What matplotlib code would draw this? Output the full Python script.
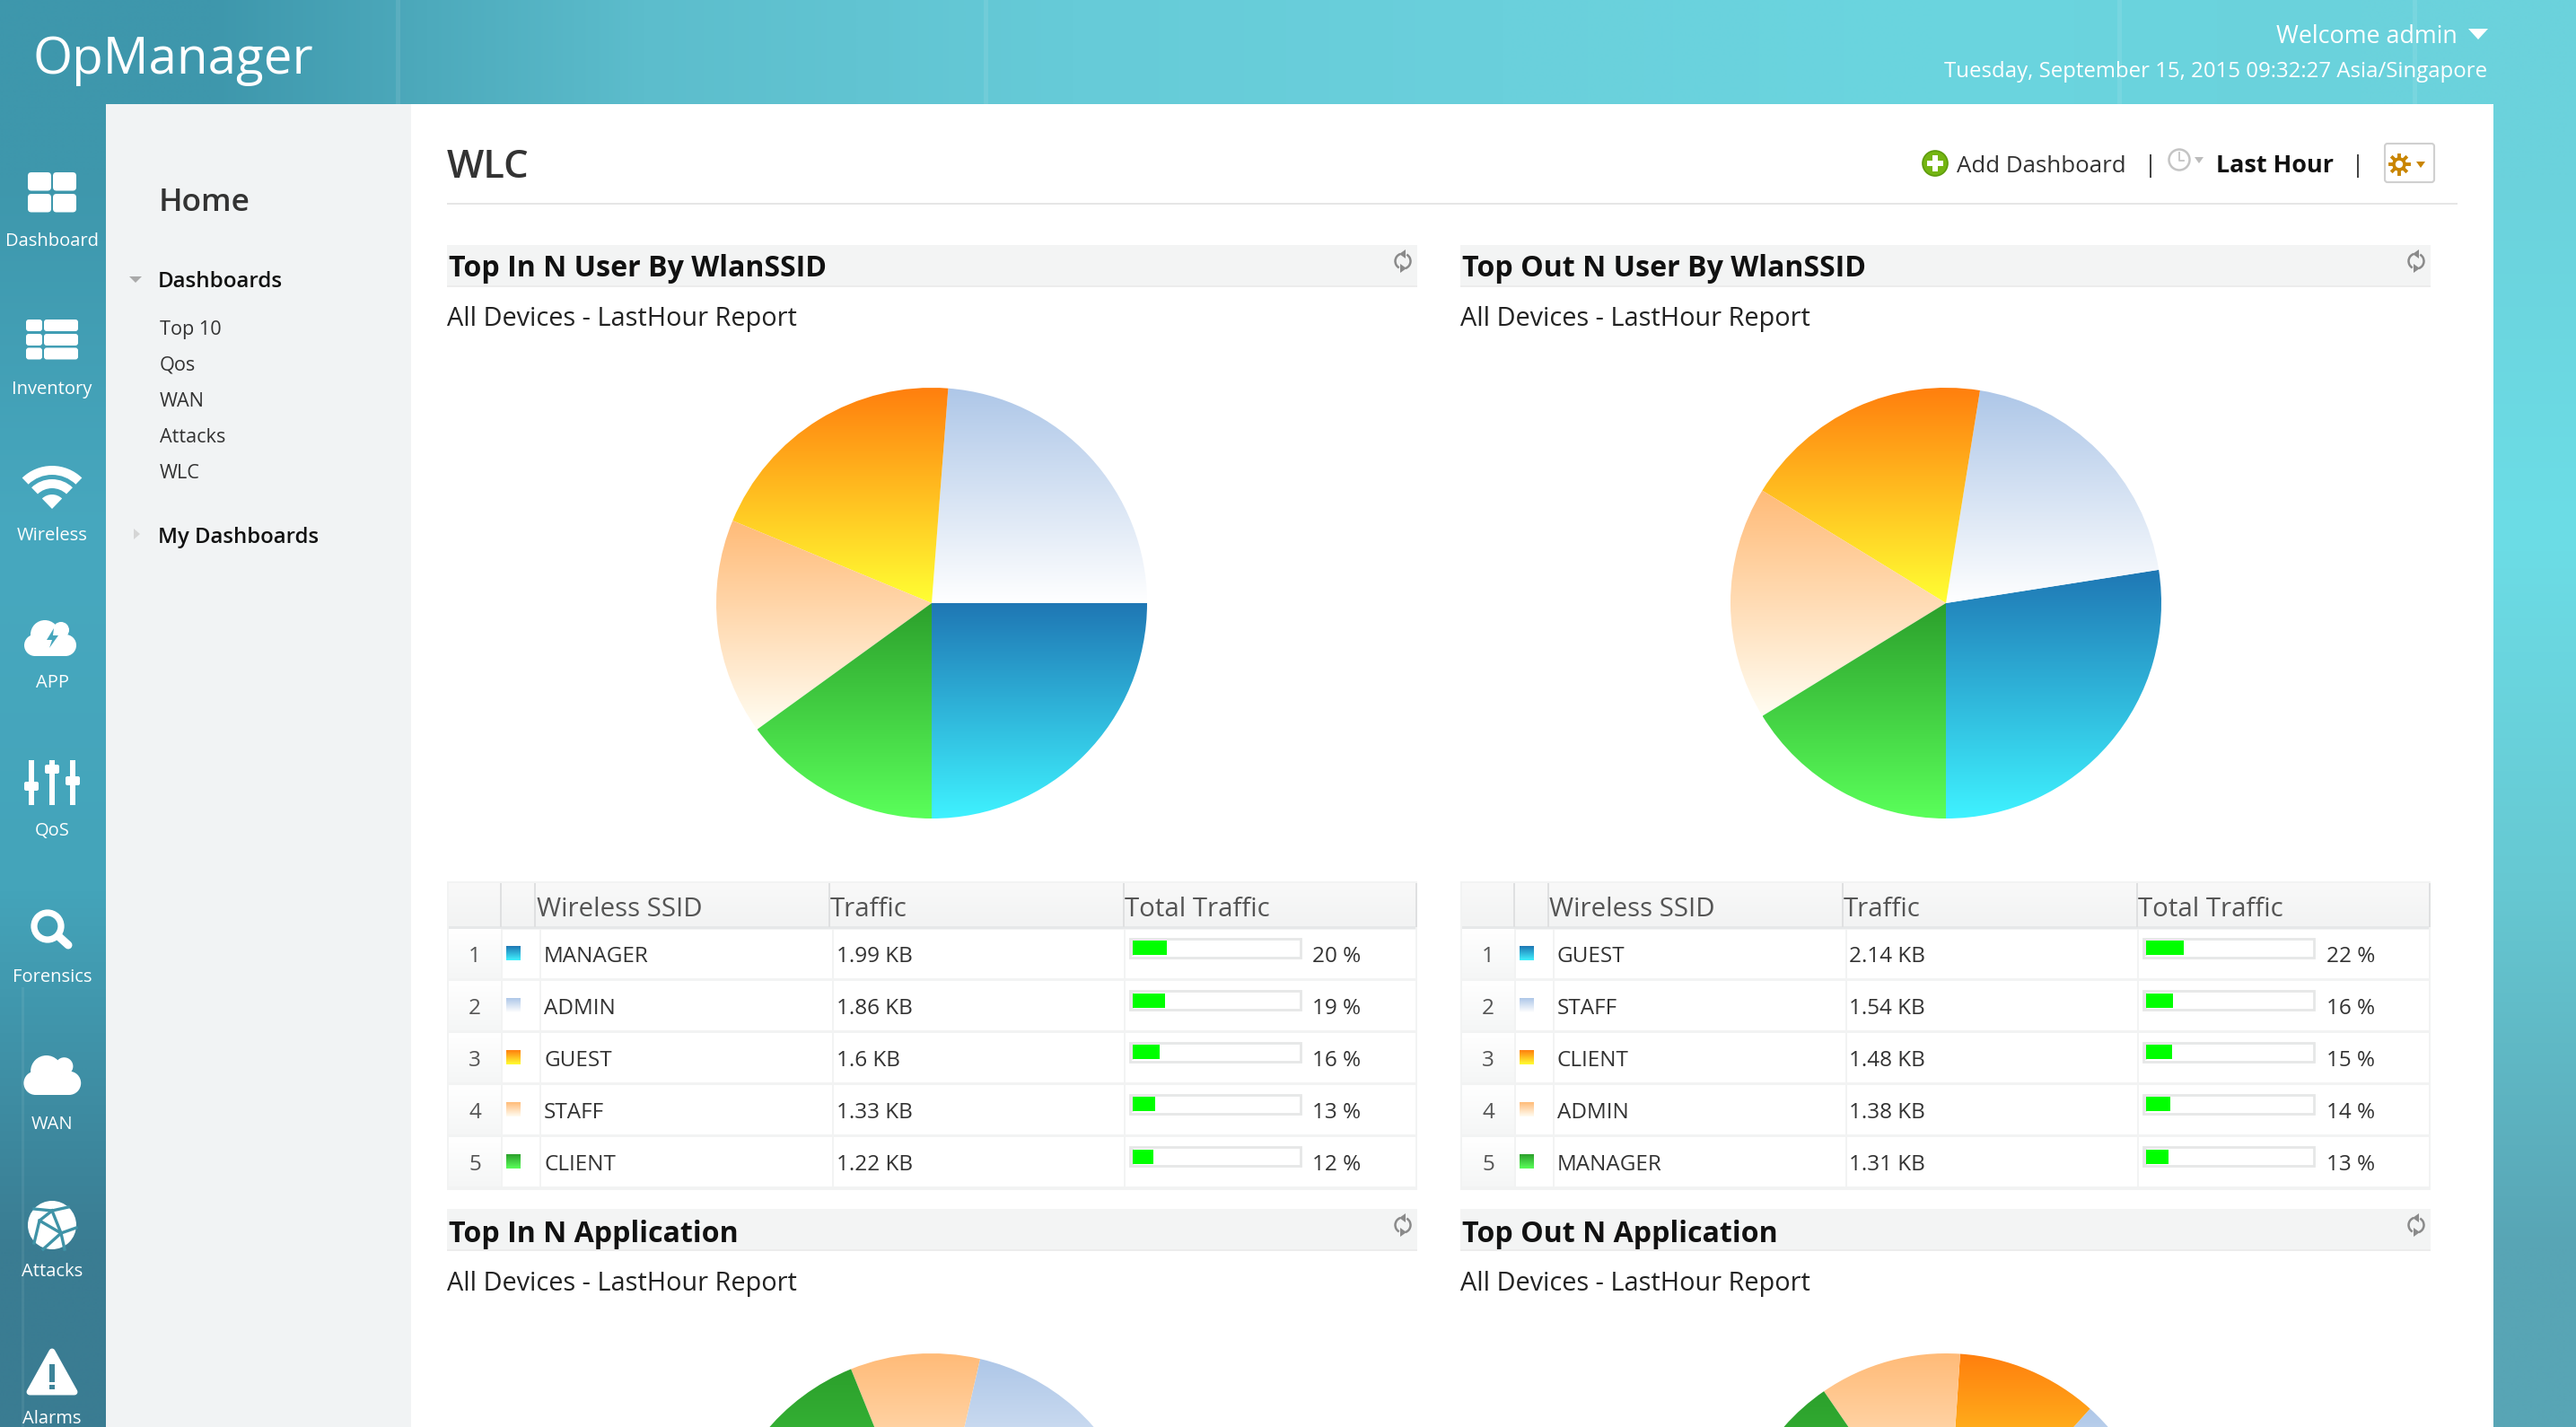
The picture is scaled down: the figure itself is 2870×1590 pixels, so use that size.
import numpy as np
import matplotlib
matplotlib.use("Agg")
import matplotlib.pyplot as plt
from matplotlib.colors import to_rgb
from matplotlib.font_manager import FontProperties
from matplotlib.patches import Circle, Wedge, Polygon, FancyBboxPatch, Rectangle, Arc
from matplotlib.textpath import TextPath

W, H = 2870, 1590
FONT = "Open Sans"

# ---- data ----
in_user_names = ["MANAGER", "ADMIN", "GUEST", "STAFF", "CLIENT"]
in_user_labels = ["1.99 KB", "1.86 KB", "1.6 KB", "1.33 KB", "1.22 KB"]
in_user_pct = [20, 19, 16, 13, 12]
in_user_slices = [90.0, 85.6, 71.9, 58.4, 54.1]      # slice sizes, degrees

out_user_names = ["GUEST", "STAFF", "CLIENT", "ADMIN", "MANAGER"]
out_user_labels = ["2.14 KB", "1.54 KB", "1.48 KB", "1.38 KB", "1.31 KB"]
out_user_pct = [22, 16, 15, 14, 13]
out_user_slices = [98.9, 72.0, 67.6, 63.1, 58.4]

# only the upper part of these two pies is visible in the screenshot
in_app_slices = [150.0, 57.0, 0.0, 35.0, 118.0]
out_app_slices = [130.0, 40.0, 38.2, 38.3, 113.5]

sidebar_items = ["Dashboard", "Inventory", "Wireless", "APP", "QoS", "Forensics", "WAN", "Attacks", "Alarms"]
nav_items = ["Top 10", "Qos", "WAN", "Attacks", "WLC"]
table_columns = ["Wireless SSID", "Traffic", "Total Traffic"]

grad_top = ["#1f77b4", "#aec7e8", "#ff7f0e", "#ffbb78", "#2ca02c"]
grad_bottom = ["#3ff2ff", "#ffffff", "#ffff33", "#fffdf2", "#5aff5a"]

plt.rcParams["font.family"] = [FONT, "DejaVu Sans"]
fig = plt.figure(figsize=(W / 100, H / 100), dpi=100, facecolor="white")
ax = fig.add_axes([0, 0, 1, 1])
ax.set_xlim(0, W)
ax.set_ylim(H, 0)
ax.set_autoscale_on(False)
ax.axis("off")


def fs(sample, width_px, weight="normal"):
    fp = FontProperties(family=FONT, weight=weight)
    w = TextPath((0, 0), sample, size=10, prop=fp).get_extents().width / 10
    return width_px * 0.72 / w


def T(x, y, s, size, color="#222222", weight="normal", ha="left", z=5):
    return ax.text(x, y, s, fontsize=size, color=color, weight=weight, ha=ha,
                   va="center_baseline", zorder=z, family=[FONT, "DejaVu Sans"])


def R(x0, y0, x1, y1, color, z=1, alpha=1.0):
    ax.add_patch(Rectangle((x0, y0), x1 - x0, y1 - y0, fc=color, ec="none", zorder=z, alpha=alpha))


def grad_rect(a, x0, y0, x1, y1, c0, c1, z=2):
    g = np.linspace(to_rgb(c0), to_rgb(c1), 256)[:, None, :]
    return a.imshow(g, extent=(x0, x1, y1, y0), origin="upper", aspect="auto",
                    interpolation="bilinear", zorder=z)


# ---- background ----
bg_hex = [
    ["#3e97ac", "#5cbdcc", "#66cbd8", "#6ad0dc", "#6ad5df", "#6bd2dc"],
    ["#47a8bf", "#4fb4c6", "#66cbd8", "#6ad0dc", "#6ad5df", "#6cdde6"],
    ["#44a4ba", "#4fb0c2", "#5fbecc", "#64c4d0", "#66ccd6", "#66c8d2"],
    ["#3a7c92", "#3f8799", "#4c97a8", "#559fae", "#58a5b4", "#58a5b5"],
]
bg = np.array([[to_rgb(c) for c in row] for row in bg_hex])
ax.imshow(bg, extent=(0, W, H, 0), origin="upper", aspect="auto", interpolation="bilinear", zorder=0)
for sx in [443, 1098, 2361, 2690]:
    R(sx - 2.5, 0, sx + 2.5, 116, "white", z=0.5, alpha=0.09)
R(24, 1100, 27, H, "white", z=0.5, alpha=0.07)
R(118, 116, 458, H, "#f1f3f4", z=1)
R(458, 116, 2778, H, "white", z=1)

# ---- top bar text ----
T(36, 60, "OpManager", fs("OpManager", 308), color="white")
T(2738, 38, "Welcome admin", fs("Welcome admin", 200), color="white", ha="right")
ax.add_patch(Polygon([(2750, 32), (2772, 32), (2761, 44)], fc="white", ec="none", zorder=5))
T(2771, 77, "Tuesday, September 15, 2015 09:32:27 Asia/Singapore",
  fs("Tuesday, September 15, 2015 09:32:27 Asia/Singapore", 602), color="white", ha="right")

# ---- sidebar ----
side_y = [266.5, 431, 595, 758, 923, 1087, 1250, 1415, 1578]
side_fs = fs("Dashboard", 100)
for name, y in zip(sidebar_items, side_y):
    T(58, y, name, side_fs, color="white", ha="center")


def rr(x0, y0, x1, y1, rad=4):
    ax.add_patch(FancyBboxPatch((x0 + rad, y0 + rad), x1 - x0 - 2 * rad, y1 - y0 - 2 * rad,
                                boxstyle=f"round,pad={rad}", fc="white", ec="none", zorder=4))


for x0, x1 in [(31, 57), (59, 85)]:
    for y0, y1 in [(192, 212.5), (216, 236.5)]:
        rr(x0, y0, x1, y1)
for y0, y1 in [(356, 369), (372, 385), (387.5, 400.5)]:
    rr(29, y0, 47, y1, 3)
    rr(49, y0, 87, y1, 3)
for r, wd in [(48, 10), (33, 10), (16, 16)]:
    ax.add_patch(Wedge((58, 567), r, 226, 314, width=wd, fc="white", ec="none", zorder=4))


def cloud(cx, cy, s):
    for dx, dy, r in [(-8, -4, 16), (-19, 8, 12), (15, 8, 12), (10, -9, 9)]:
        ax.add_patch(Circle((cx + dx * s, cy + dy * s), r * s, fc="white", ec="none", zorder=4))
    R(cx - 19 * s, cy, cx + 15 * s, cy + 20 * s, "white", z=4)


cloud(58, 711, 1.0)
ax.add_patch(Polygon([(60, 700), (52, 713), (58, 713), (55, 722), (65, 708), (59, 708)],
                     fc="#46a6bc", ec="none", zorder=5))
cloud(60.5, 1198, 1.1)
for lx, ky in [(35, 876), (58, 857), (81, 870)]:
    R(lx - 3, 847, lx + 3, 897, "white", z=4)
    rr(lx - 8, ky - 5, lx + 8, ky + 5, 2)
ax.add_patch(Circle((53, 1032), 15, fc="none", ec="white", lw=5.2, zorder=4))
ax.plot([65, 76], [1043, 1053], color="white", lw=6.5, solid_capstyle="round", zorder=4)
ax.add_patch(Circle((58, 1365), 27, fc="white", ec="none", zorder=4))
globe_links = [
    [(38, 1347), (58, 1349), (76, 1345)],
    [(58, 1349), (44, 1360), (68, 1374), (85, 1368)],
    [(58, 1349), (68, 1374), (72, 1392)],
    [(44, 1360), (38, 1385)],
    [(68, 1374), (48, 1392)],
]
for link in globe_links:
    ax.plot(*zip(*link), color="#3f93a7", lw=2.4, zorder=5)
ax.add_patch(Polygon([(58, 1506), (33, 1551), (83, 1551)], fc="white", ec="white", lw=5, joinstyle="round", zorder=4))
R(55, 1520, 61, 1540, "#3d8499", z=5)
R(55, 1543, 61, 1548, "#3d8499", z=5)

# ---- left navigation ----
T(177, 222, "Home", fs("Home", 97, "semibold"), color="#333333", weight="semibold")
T(176, 311, "Dashboards", fs("Dashboards", 136, "semibold"), color="#111111", weight="semibold")
T(176, 596, "My Dashboards", fs("My Dashboards", 176, "semibold"), color="#111111", weight="semibold")
ax.add_patch(Polygon([(144, 308), (158, 308), (151, 315)], fc="#aaaaaa", ec="none", zorder=4))
ax.add_patch(Polygon([(149, 589), (156, 595), (149, 601)], fc="#d5d5d5", ec="none", zorder=4))
nav_fs = fs("Attacks", 72)
for name, y in zip(nav_items, [365, 405, 445, 485, 525]):
    T(178, y, name, nav_fs, color="#333333")

# ---- page header ----
T(498, 181.5, "WLC", fs("WLC", 90, "semibold"), color="#333333", weight="semibold")
R(498, 225.5, 2738, 228, "#e6e6e6", z=2)
ax.add_patch(Circle((2156, 182), 14, fc="#74b512", ec="#5e9c0c", lw=1.2, zorder=4))
R(2153, 173, 2159, 191, "white", z=5)
R(2147, 179, 2165, 185, "white", z=5)
T(2180, 183, "Add Dashboard", fs("Add Dashboard", 186), color="#333333")
R(2394.5, 172, 2396.5, 198, "#444444", z=4)
R(2626, 172, 2628, 198, "#444444", z=4)
ax.add_patch(Circle((2428, 178), 11.5, fc="none", ec="#c4c4c4", lw=1.8, zorder=4))
ax.plot([2428, 2428, 2433], [170, 179, 179], color="#c4c4c4", lw=1.3, zorder=4)
ax.add_patch(Polygon([(2445, 175), (2455, 175), (2450, 182)], fc="#bbbbbb", ec="none", zorder=4))
T(2469, 182.5, "Last Hour", fs("Last Hour", 128, "bold"), color="#111111", weight="bold")
ax.add_patch(FancyBboxPatch((2660, 163), 49, 37, boxstyle="round,pad=3", fc="white", ec="#d0d0d0", lw=1.5, zorder=3))
for a in np.arange(0, 2 * np.pi, np.pi / 4):
    ax.plot([2673 + 6 * np.cos(a), 2673 + 10.5 * np.cos(a)], [183 + 6 * np.sin(a), 183 + 10.5 * np.sin(a)],
            color="#c98500", lw=2.8, zorder=4)
ax.add_patch(Circle((2673, 183), 6, fc="white", ec="#c98500", lw=2.6, zorder=5))
ax.add_patch(Polygon([(2692, 180), (2702, 180), (2697, 187)], fc="#c98500", ec="none", zorder=4))


def refresh(cx, cy):
    ax.add_patch(Arc((cx, cy), 17, 17, theta1=120, theta2=250, color="#8a8a8a", lw=1.8, zorder=5))
    ax.add_patch(Arc((cx, cy), 17, 17, theta1=300, theta2=70, color="#8a8a8a", lw=1.8, zorder=5))
    ax.add_patch(Polygon([(cx + 3, cy - 13), (cx + 3, cy - 3), (cx - 4, cy - 8)], fc="#8a8a8a", ec="none", zorder=5))
    ax.add_patch(Polygon([(cx - 3, cy + 13), (cx - 3, cy + 3), (cx + 4, cy + 8)], fc="#8a8a8a", ec="none", zorder=5))


title_fs = fs("Top In N Application", 320, "bold")
sub_fs = fs("All Devices - LastHour Report", 388)
head_fs = fs("Wireless SSID", 182)
cell_fs = fs("MANAGER", 114)
pct_fs = cell_fs
DX = 1129
row_top = [1033.5, 1091, 1149, 1207, 1265]
row_bottom = [1091, 1149, 1207, 1265, 1323]
row_mid = [1063, 1121.5, 1179, 1237, 1295.5]


def section(dx, y0, y1, title, title_y, sub_y):
    R(498 + dx, y0, 1579 + dx, y1, "#f3f4f4", z=2)
    R(498 + dx, y1 - 2, 1579 + dx, y1, "#ececec", z=2)
    T(500 + dx, title_y, title, title_fs, color="#111111", weight="bold")
    T(498 + dx, sub_y, "All Devices - LastHour Report", sub_fs, color="#222222")
    refresh(1563 + dx, y0 + 18)


def table(dx, names, labels, pct):
    R(498 + dx, 982, 1579 + dx, 1326, "#f2f3f3", z=2)
    grad_rect(ax, 500 + dx, 984, 1577 + dx, 1032, "#f9f9f9", "#f2f3f3", z=2.5)
    R(500 + dx, 1032, 1577 + dx, 1035, "#e6e8e9", z=3)
    for sx in [557, 595, 923, 1251, 1577]:
        R(sx + dx, 984, sx + 1.5 + dx, 1033, "#dfe0e1", z=3)
    for t, b in zip(row_top, row_bottom):
        R(500 + dx, t + 2, 1577 + dx, b - 1, "white", z=2.6)
        grad_rect(ax, 500 + dx, t + 2, 557.5 + dx, b - 1, "#ffffff", "#f5f6f6", z=2.7)
    for sx in [558, 600.5, 926.5, 1251.5]:
        R(sx + dx, 1036, sx + 2 + dx, 1323, "#f2f3f3", z=3)
    for c, x in zip(table_columns, [597.5, 925, 1253]):
        T(x + dx, 1010, c, head_fs, color="#555555")
    for i, y in enumerate(row_mid):
        T(529 + dx, y, str(i + 1), cell_fs, color="#555555", ha="center")
        grad_rect(ax, 564 + dx, y - 9, 580 + dx, y + 7, grad_top[i], grad_bottom[i], z=4)
        T(606 + dx, y, names[i], cell_fs, color="#333333")
        T(931.5 + dx, y, labels[i], cell_fs, color="#333333")
        T(1462.5 + dx, y, f"{pct[i]} %", pct_fs, color="#333333")
        ty = y - 7
        ax.add_patch(Rectangle((1259 + dx, ty - 10.5), 190, 21, fc="white", ec="#e6e7e7", lw=2.0, zorder=4))
        R(1260 + dx, ty - 9, 1263 + dx, ty + 9, "#e8e8e8", z=4.5)
    ax.barh([y - 7 for y in row_mid], [p * 1.9 for p in pct], left=1262 + dx, height=16,
            color="#00ff00", zorder=5)


section(0, 273, 320, "Top In N User By WlanSSID", 296, 352)
section(DX, 273, 320, "Top Out N User By WlanSSID", 296, 352)
section(0, 1347, 1394, "Top In N Application", 1371, 1427)
section(DX, 1347, 1394, "Top Out N Application", 1371, 1427)
table(0, in_user_names, in_user_labels, in_user_pct)
table(DX, out_user_names, out_user_labels, out_user_pct)


def gradient_pie(cx, cy, values, start, r=240):
    a = fig.add_axes([(cx - r) / W, 1 - (cy + r) / H, 2 * r / W, 2 * r / H], zorder=3)
    wedges, _ = a.pie(values, startangle=start, radius=1, colors=["none"] * len(values),
                      wedgeprops=dict(linewidth=0))
    for w, c0, c1, v in zip(wedges, grad_top, grad_bottom, values):
        if v <= 0:
            continue
        bb = w.get_path().get_extents()
        g = np.linspace(to_rgb(c0), to_rgb(c1), 256)[:, None, :]
        im = a.imshow(g, extent=(bb.x0, bb.x1, bb.y0, bb.y1), origin="upper", aspect="auto",
                      interpolation="bilinear", zorder=2)
        im.set_clip_path(w)
    a.set_xlim(-1, 1)
    a.set_ylim(-1, 1)
    a.set_aspect("auto")
    a.axis("off")


gradient_pie(1038, 672, in_user_slices, -90)
gradient_pie(2168, 672, out_user_slices, -90)
gradient_pie(1038, 1748, in_app_slices, -130)
gradient_pie(2168, 1748, out_app_slices, -122)

ax.set_xlim(0, W)
ax.set_ylim(H, 0)
fig.savefig("out.png", dpi=100, facecolor="white")
